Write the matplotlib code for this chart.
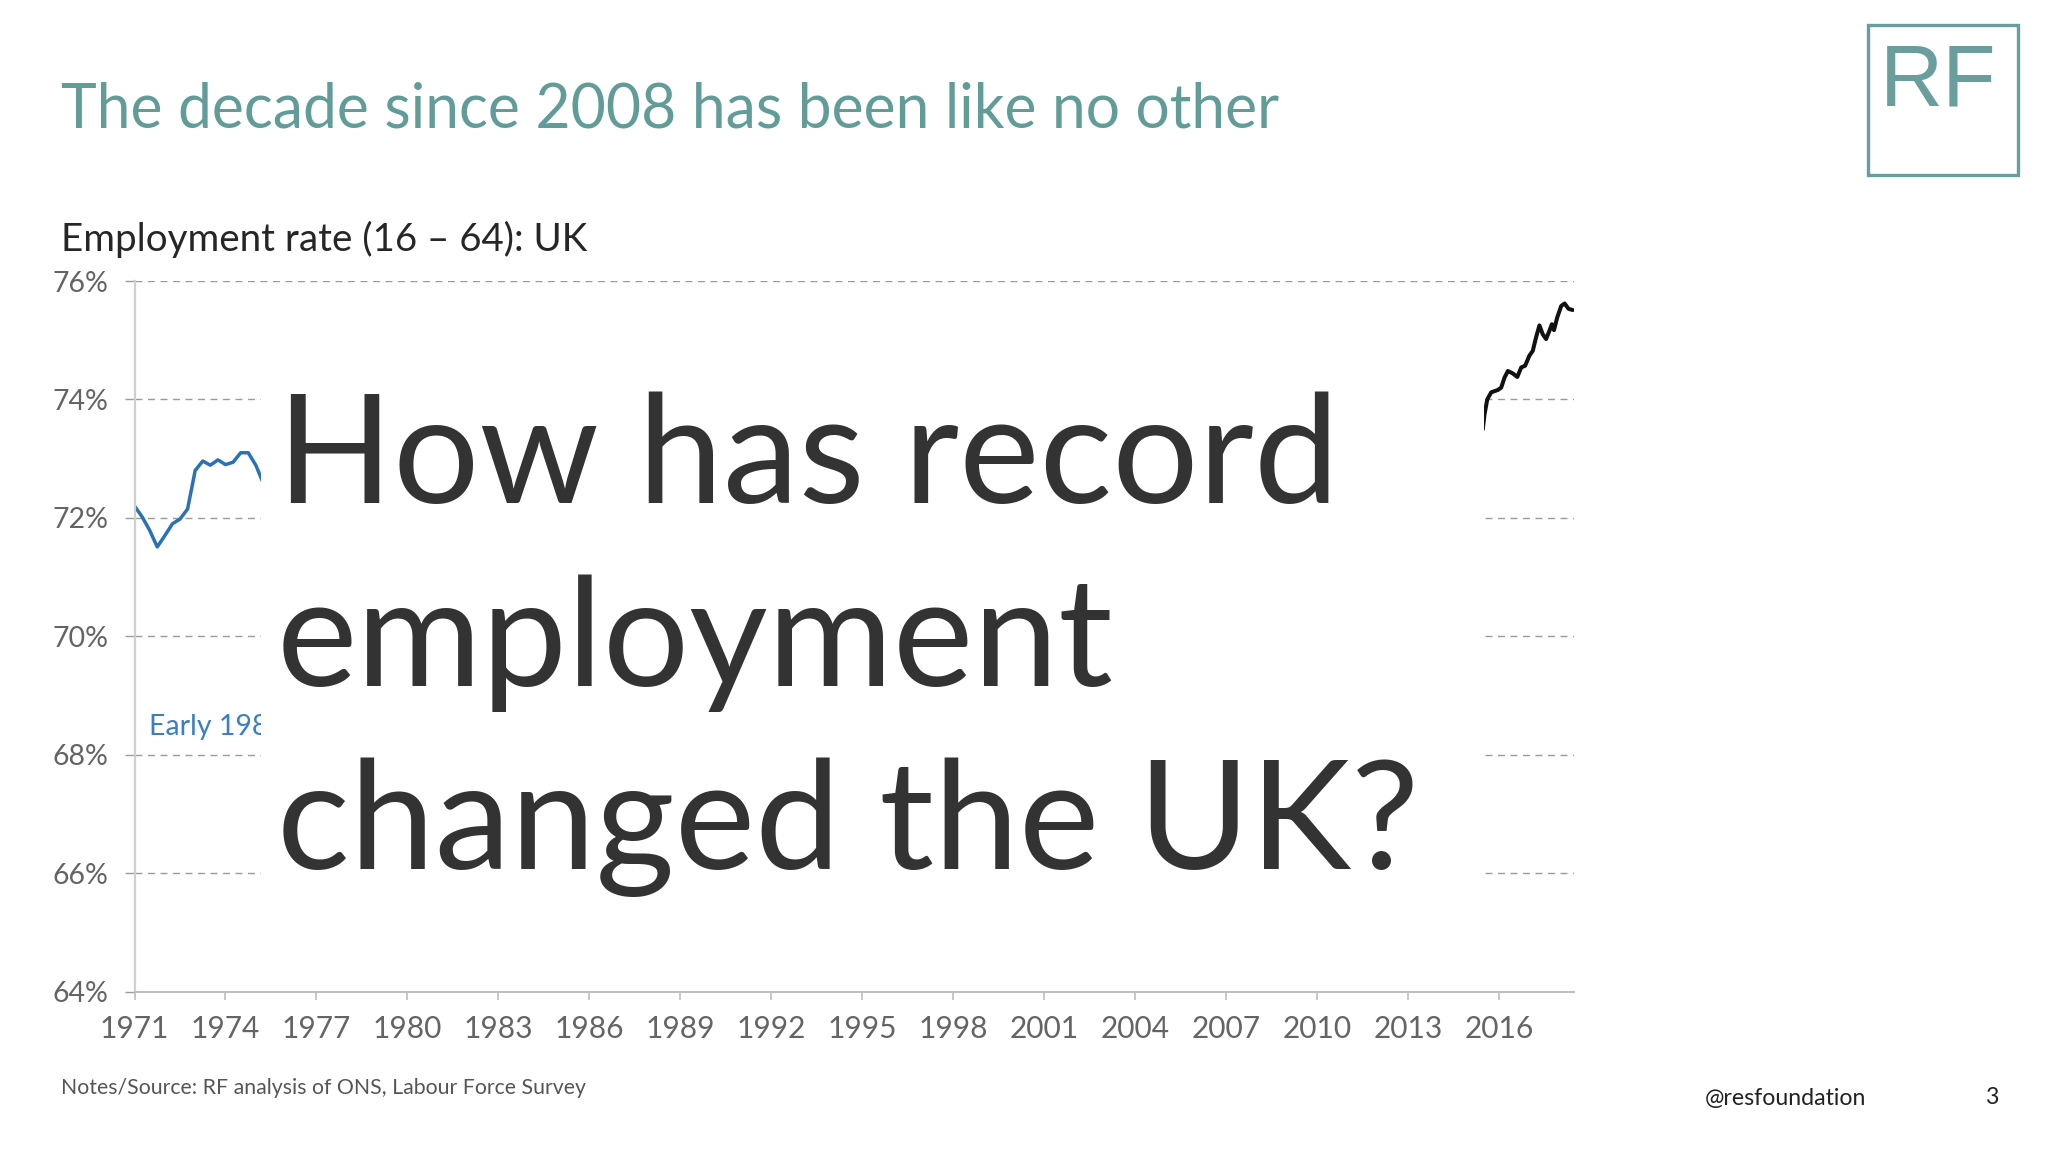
import matplotlib
matplotlib.use("Agg")
import matplotlib.pyplot as plt
from matplotlib.patches import Rectangle

# ---- data ----
title = "The decade since 2008 has been like no other"
subtitle = "Employment rate (16 \u2013 64): UK"
overlay_lines = ["How has record", "employment", "changed the UK?"]
source_note = "Notes/Source: RF analysis of ONS, Labour Force Survey"
handle = "@resfoundation"
page_no = "3"
annotation = "Early 1980s recession"

early_years = [1971.0, 1971.25, 1971.5, 1971.75, 1972.0, 1972.25, 1972.5, 1972.75,
               1973.0, 1973.25, 1973.5, 1973.75, 1974.0, 1974.25, 1974.5, 1974.75,
               1975.0, 1975.25]
early_rate = [72.2, 72.02, 71.79, 71.51, 71.7, 71.9, 71.98, 72.15,
              72.8, 72.96, 72.89, 72.98, 72.9, 72.94, 73.1, 73.1,
              72.89, 72.58]

recent_years = [2015.45, 2015.51, 2015.6, 2015.73, 2015.95, 2016.06, 2016.17, 2016.28,
                2016.44, 2016.59, 2016.72, 2016.85, 2016.99, 2017.1, 2017.21, 2017.32,
                2017.43, 2017.54, 2017.65, 2017.73, 2017.8, 2017.91, 2018.04, 2018.15,
                2018.28, 2018.42]
recent_rate = [73.49, 73.75, 74.0, 74.12, 74.16, 74.2, 74.37, 74.48,
               74.44, 74.38, 74.54, 74.57, 74.74, 74.82, 75.05, 75.25,
               75.1, 75.02, 75.16, 75.27, 75.17, 75.39, 75.58, 75.62,
               75.53, 75.51]

x_ticks = [1971, 1974, 1977, 1980, 1983, 1986, 1989, 1992, 1995, 1998,
           2001, 2004, 2007, 2010, 2013, 2016]
y_ticks = [64, 66, 68, 70, 72, 74, 76]

# ---- style ----
W, H = 2048, 1152
FONT = ["Lato", "DejaVu Sans"]
TEAL = "#629c98"
GREY_TXT = "#646464"

fig = plt.figure(figsize=(W / 100, H / 100), dpi=100)
fig.patch.set_facecolor("white")

ax = fig.add_axes([134.5 / W, 1 - 991.7 / H, (1574 - 134.5) / W, (991.7 - 281) / H])
ax.set_xlim(1971, 2018.46)
ax.set_ylim(64, 76)
ax.set_facecolor("white")

for y in y_ticks:
    ax.axhline(y, color="#9a9a9a", lw=1.0, ls=(0, (5, 4)), zorder=1)

ax.plot(early_years, early_rate, color="#2a72b5", lw=2.5, zorder=2,
        solid_joinstyle="round")
ax.plot(recent_years, recent_rate, color="#111111", lw=2.9, zorder=2,
        solid_joinstyle="round", solid_capstyle="round")
ax.text(1971.48, 68.47, annotation, color="#3b7fc0", fontsize=20.5,
        family=FONT, va="center", ha="left", zorder=3)

# overlay card hiding most of the chart
ax.add_patch(Rectangle((1975.17, 64.2), 2015.48 - 1975.17, 75.85 - 64.2,
                       facecolor="white", edgecolor="none", zorder=5))

ax.set_xticks(x_ticks)
ax.set_xticklabels([str(t) for t in x_ticks], family=FONT, fontsize=21.5,
                   color=GREY_TXT)
ax.set_yticks(y_ticks)
ax.set_yticklabels([f"{t}%" for t in y_ticks], family=FONT, fontsize=20.5,
                   color=GREY_TXT)
ax.tick_params(axis="y", length=7, width=1, color="#9a9a9a", pad=12)
ax.tick_params(axis="x", length=6, width=1.2, color="#bdbdbd", pad=11)
for s in ["top", "right"]:
    ax.spines[s].set_visible(False)
ax.spines["left"].set_color("#cfcfcf")
ax.spines["left"].set_linewidth(1.6)
ax.spines["bottom"].set_color("#bdbdbd")
ax.spines["bottom"].set_linewidth(1.4)

renderer = fig.canvas.get_renderer()


def fit(t, width_px):
    bb = t.get_window_extent(renderer=renderer)
    t.set_fontsize(t.get_fontsize() * width_px / bb.width)


t_title = fig.text(61 / W, 1 - 128 / H, title, color=TEAL, family=FONT,
                   fontsize=44, va="baseline", ha="left")
fit(t_title, 1219)
t_sub = fig.text(61 / W, 1 - 251 / H, subtitle, color="#262626", family=FONT,
                 fontsize=26, va="baseline", ha="left")
fit(t_sub, 526)

baselines = [503, 686, 869]
t_big = []
for line, b in zip(overlay_lines, baselines):
    t = fig.text(277 / W, 1 - b / H, line, color="#333333", family=FONT,
                 fontsize=110, va="baseline", ha="left", zorder=10)
    t_big.append(t)
bb = t_big[0].get_window_extent(renderer=renderer)
size = 110 * 1062 / bb.width
for t in t_big:
    t.set_fontsize(size)

t_note = fig.text(61 / W, 1 - 1088 / H, source_note, color="#555555", family=FONT,
                  fontsize=14, va="center", ha="left")
fit(t_note, 526)
t_handle = fig.text(1705 / W, 1 - 1098 / H, handle, color="#222222", family=FONT,
                    fontsize=16, va="center", ha="left")
fit(t_handle, 162)
fig.text(1992 / W, 1 - 1098 / H, page_no, color="#222222", family=FONT,
         fontsize=t_handle.get_fontsize(), va="center", ha="center")

# RF logo
fig.add_artist(Rectangle((1868 / W, 1 - 175 / H), 150 / W, 150 / H,
                         transform=fig.transFigure, facecolor="none",
                         edgecolor="#6a9e9d", lw=2.4))
fig.text(1880 / W, 1 - 105 / H, "RF", color="#6a9e9d",
         family=["Liberation Sans", "DejaVu Sans"], fontsize=63,
         va="baseline", ha="left")

fig.savefig("out.png", dpi=100, facecolor="white")
